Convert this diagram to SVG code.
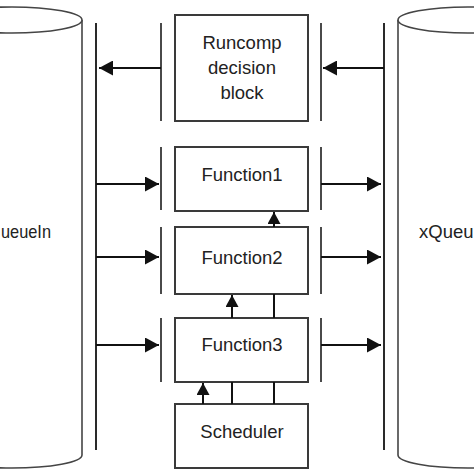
<svg xmlns="http://www.w3.org/2000/svg" width="474" height="474" viewBox="0 0 474 474">
<style>
.box{fill:#fff;stroke:#3a3a3a;stroke-width:2}
.cyl{fill:#fff;stroke:#454545;stroke-width:1.6}
.bus{stroke:#2a2a2a;stroke-width:2;fill:none}
.bar{stroke:#4a4a4a;stroke-width:2;fill:none}
.arr{stroke:#111;stroke-width:2;fill:none}
.t{font-family:"Liberation Sans",Arial,sans-serif;font-size:18.5px;fill:#222;text-anchor:middle}
</style>
<defs>
<marker id="big" markerUnits="userSpaceOnUse" markerWidth="15" markerHeight="15" refX="14" refY="7.5" orient="auto"><path d="M0,0 L14,7.5 L0,15 z" fill="#111"/></marker>
<marker id="small" markerUnits="userSpaceOnUse" markerWidth="13" markerHeight="13" refX="12" refY="6.5" orient="auto"><path d="M0,0 L12,6.5 L0,13 z" fill="#111"/></marker>
</defs>
<rect width="474" height="474" fill="#fff"/>
<g id="queue-left">
<path class="cyl" d="M-58,20 L-58,455 A70,13 0 0 0 82,455 L82,20"/>
<ellipse class="cyl" cx="12" cy="20" rx="70" ry="13"/>
<text class="t" x="1" y="238" style="text-anchor:start" textLength="50" lengthAdjust="spacingAndGlyphs">ueueIn</text>
</g>
<g id="queue-right">
<path class="cyl" d="M398,20 L398,455 A70,13 0 0 0 538,455 L538,20"/>
<ellipse class="cyl" cx="468" cy="20" rx="70" ry="13"/>
<text class="t" x="419" y="238" style="text-anchor:start">xQueu</text>
</g>
<g id="runcomp">
<rect class="box" x="175" y="15" width="133" height="106"/>
<text class="t" x="242" y="49">Runcomp</text>
<text class="t" x="242" y="74">decision</text>
<text class="t" x="242" y="99">block</text>
</g>
<g id="function1">
<rect class="box" x="175" y="147" width="133" height="64"/>
<text class="t" x="242" y="181">Function1</text>
</g>
<g id="function2">
<rect class="box" x="175" y="227" width="133" height="67"/>
<text class="t" x="242" y="264">Function2</text>
</g>
<g id="function3">
<rect class="box" x="175" y="318" width="133" height="64"/>
<text class="t" x="242" y="351">Function3</text>
</g>
<g id="scheduler">
<rect class="box" x="175" y="404" width="133" height="64"/>
<text class="t" x="242" y="438">Scheduler</text>
</g>
<g id="connectors">
<line class="bus" x1="96" y1="23" x2="96" y2="450"/>
<line class="bus" x1="384" y1="23" x2="384" y2="450"/>
<line class="bar" x1="161" y1="23" x2="161" y2="121"/>
<line class="bar" x1="321" y1="23" x2="321" y2="121"/>
<line class="bar" x1="161" y1="147" x2="161" y2="210"/>
<line class="bar" x1="321" y1="147" x2="321" y2="210"/>
<line class="bar" x1="161" y1="227" x2="161" y2="294"/>
<line class="bar" x1="321" y1="227" x2="321" y2="294"/>
<line class="bar" x1="161" y1="318" x2="161" y2="382"/>
<line class="bar" x1="321" y1="318" x2="321" y2="382"/>
<line class="arr" x1="161" y1="68" x2="99" y2="68" marker-end="url(#big)"/>
<line class="arr" x1="384" y1="68" x2="323" y2="68" marker-end="url(#big)"/>
<line class="arr" x1="96" y1="184" x2="159" y2="184" marker-end="url(#big)"/>
<line class="arr" x1="96" y1="257" x2="159" y2="257" marker-end="url(#big)"/>
<line class="arr" x1="96" y1="345" x2="159" y2="345" marker-end="url(#big)"/>
<line class="arr" x1="321" y1="184" x2="381" y2="184" marker-end="url(#big)"/>
<line class="arr" x1="321" y1="257" x2="381" y2="257" marker-end="url(#big)"/>
<line class="arr" x1="321" y1="345" x2="381" y2="345" marker-end="url(#big)"/>
<line class="arr" x1="274" y1="227" x2="274" y2="212" marker-end="url(#small)"/>
<line class="arr" x1="232" y1="318" x2="232" y2="295" marker-end="url(#small)"/>
<line class="arr" x1="274" y1="294" x2="274" y2="318"/>
<line class="arr" x1="203" y1="404" x2="203" y2="383" marker-end="url(#small)"/>
<line class="arr" x1="232" y1="382" x2="232" y2="404"/>
<line class="arr" x1="274" y1="382" x2="274" y2="404"/>
</g>
</svg>
